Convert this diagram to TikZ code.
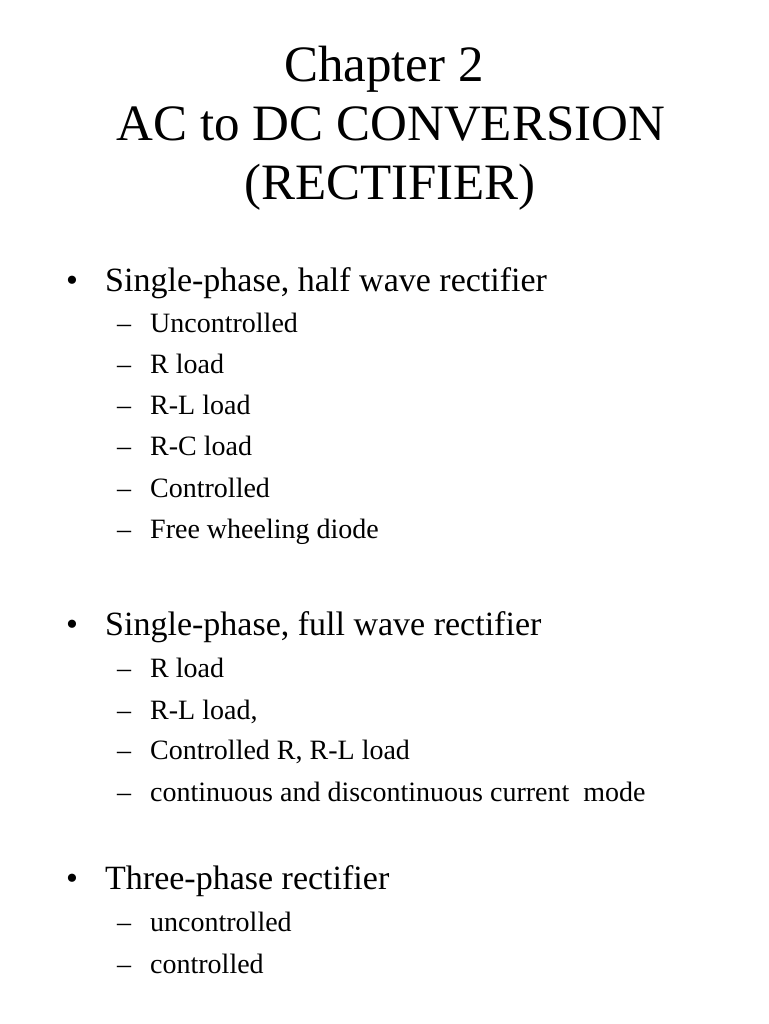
\documentclass[tikz,border=0pt]{standalone}
\usepackage{fontspec}
\setmainfont{Liberation Serif}
\begin{document}
\begin{tikzpicture}[x=1pt,y=-1pt,
  title/.style={font=\fontsize{51}{56}\selectfont, anchor=base},
  lvlone/.style={font=\fontsize{34}{38}\selectfont, anchor=base west, inner sep=0},
  lvltwo/.style={font=\fontsize{28}{32}\selectfont, anchor=base west, inner sep=0}]
\useasboundingbox (0,0) rectangle (768,1024);
\node[title] (t1) at (384,82) {Chapter 2};
\node[title] (t2) at (391,141) {AC to DC CONVERSION};
\node[title] (t3) at (390,200) {(RECTIFIER)};
\newcommand{\bul}[3]{\node[lvlone] (#1b) at (66,#2) {•}; \node[lvlone] (#1) at (105,#2) {#3};}
\newcommand{\sub}[3]{\node[lvltwo] (#1d) at (117,#2) {–}; \node[lvltwo] (#1) at (150,#2) {#3};}
\bul{a}{291}{Single-phase, half wave rectifier}
\sub{a1}{332}{Uncontrolled}
\sub{a2}{373}{R load}
\sub{a3}{414}{R-L load}
\sub{a4}{455}{R-C load}
\sub{a5}{497}{Controlled}
\sub{a6}{538}{Free wheeling diode}
\bul{b}{635}{Single-phase, full wave rectifier}
\sub{b1}{677}{R load}
\sub{b2}{719}{R-L load,}
\sub{b3}{759}{Controlled R, R-L load}
\sub{b4}{801}{continuous and discontinuous current\ \ mode}
\bul{c}{889}{Three-phase rectifier}
\sub{c1}{931}{uncontrolled}
\sub{c2}{973}{controlled}
\end{tikzpicture}
\end{document}
